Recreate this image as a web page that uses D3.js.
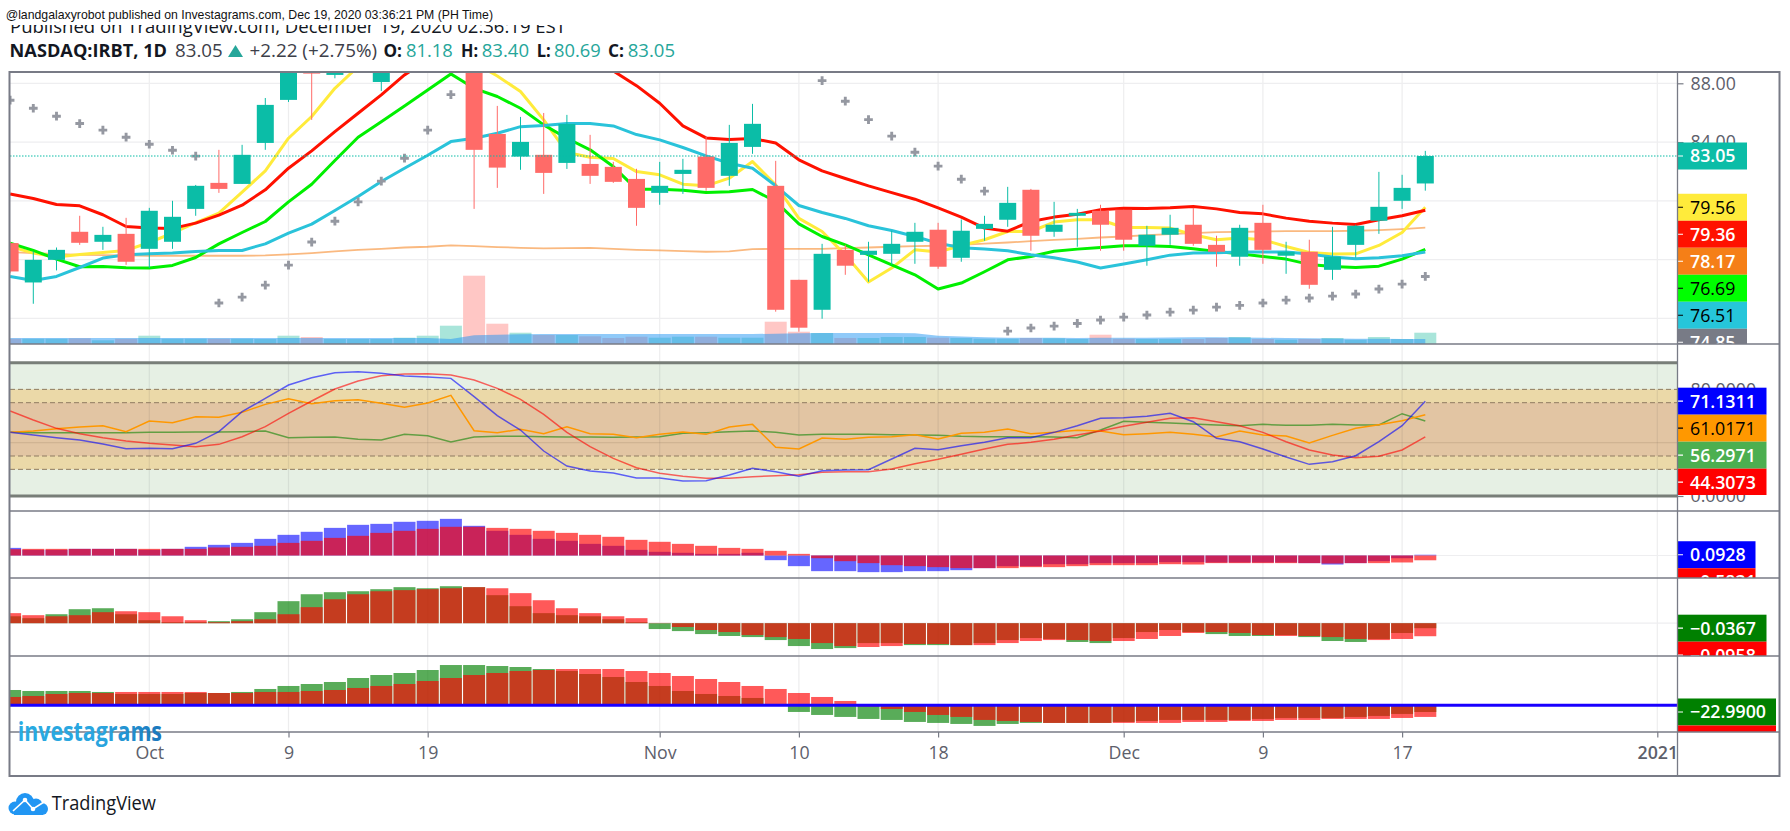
<!DOCTYPE html>
<html>
<head>
<meta charset="utf-8">
<title>NASDAQ:IRBT, 1D</title>
<script src="https://cdn.jsdelivr.net/npm/d3@7"></script>
<style>
html,body{margin:0;padding:0;background:#fff;overflow:hidden}
svg{display:block}
text{font-family:"Open Sans","Noto Sans",sans-serif}
</style>
</head>
<body>
<svg id="chart" width="1790" height="831"></svg>
<script>
// Daily bars, session index 0 = 23 Sep 2020, index 61 = 18 Dec 2020
const opens = [77.12,74.44,75.98,77.89,77.21,77.75,76.73,77.21,79.45,81.22,
  81.15,83.94,86.87,91.00,88.57,90.00,88.09,91.00,92.50,94.00,
  93.00,84.55,83.01,83.13,82.58,82.51,82.31,81.49,80.54,81.83,
  83.01,81.70,83.67,81.02,74.62,72.58,76.66,76.32,76.39,77.21,
  78.03,76.12,78.09,78.71,80.75,77.89,78.98,79.32,79.39,76.94,
  77.69,78.37,77.00,76.19,78.50,76.26,76.53,75.30,77.00,78.64,
  80.00,81.18];
const highs = [77.23,76.55,76.82,78.98,78.23,78.84,79.52,80.00,81.08,83.47,
  83.81,87.00,90.40,91.60,91.00,92.00,92.00,93.00,94.50,96.00,
  94.00,86.46,85.71,85.98,85.85,84.49,82.65,82.18,82.65,82.86,
  84.37,85.17,86.60,82.72,74.62,77.07,77.00,77.21,77.96,78.50,
  78.50,78.73,78.98,80.95,80.81,79.93,79.45,79.73,79.39,78.30,
  79.05,79.52,77.62,78.37,79.73,77.21,77.35,78.23,78.37,81.97,
  81.77,83.40];
const lows = [75.10,72.99,75.26,77.00,76.66,75.64,75.42,76.73,78.98,80.54,
  81.15,83.47,86.73,85.51,88.34,89.20,87.48,89.50,91.50,93.00,
  79.45,80.88,82.11,80.47,82.17,81.15,81.22,78.30,79.73,80.47,
  80.68,81.02,83.20,72.45,71.09,71.97,74.96,74.49,75.64,75.71,
  75.37,75.85,77.28,78.23,76.60,77.55,76.87,76.60,76.60,75.58,
  77.00,76.94,75.51,75.58,75.71,75.03,74.01,74.62,76.12,77.75,
  79.45,80.69];
const closes = [75.19,75.98,76.66,77.14,77.68,75.85,79.32,78.91,81.02,80.81,
  83.13,86.53,90.00,88.66,90.40,91.50,91.20,92.50,94.00,95.00,
  83.47,82.26,84.01,81.90,85.23,81.70,81.29,79.52,81.02,82.11,
  80.88,83.94,85.24,72.58,71.36,76.39,75.58,76.60,77.07,77.89,
  75.51,77.96,78.43,79.86,77.62,78.37,79.18,78.37,77.35,77.69,
  78.16,77.07,76.53,78.16,76.66,76.53,74.28,76.19,78.30,79.59,
  80.88,83.05];

// Moving averages
const yellowMA = [76.89,76.44,76.17,76.35,76.48,76.62,77.16,77.80,78.52,79.16,
  80.59,82.04,84.26,85.74,87.66,89.14,90.00,90.40,90.60,90.10,
  89.40,88.50,87.44,85.51,83.29,82.97,82.88,81.99,81.77,81.13,
  81.02,81.54,82.67,81.09,78.80,77.91,76.32,74.47,75.42,76.66,
  76.51,76.96,77.35,77.91,77.91,78.55,78.71,78.71,78.18,78.18,
  78.14,77.69,77.35,77.46,77.35,76.89,76.48,76.37,76.39,76.96,
  77.84,79.56];
const redMA = [80.47,80.16,79.75,79.66,79.05,78.25,78.14,78.12,78.48,79.02,
  79.70,80.75,82.22,83.40,84.71,85.96,87.21,88.57,89.59,90.04,
  90.27,90.27,90.04,89.70,89.36,89.14,88.84,87.84,86.64,85.10,
  84.28,84.17,84.24,83.94,82.79,82.04,81.52,81.02,80.56,80.11,
  79.52,78.89,78.14,77.93,78.59,78.89,79.09,79.39,79.50,79.48,
  79.52,79.61,79.45,79.20,79.11,78.82,78.61,78.48,78.39,78.71,
  78.98,79.36];
const orangeMA = [76.51,76.44,76.39,76.32,76.30,76.28,76.26,76.26,76.26,76.26,
  76.26,76.28,76.35,76.44,76.55,76.66,76.73,76.82,76.87,76.96,
  76.91,76.85,76.80,76.76,76.78,76.80,76.73,76.66,76.62,76.57,
  76.53,76.55,76.71,76.73,76.73,76.73,76.78,76.82,76.87,76.91,
  76.94,77.00,77.09,77.16,77.25,77.34,77.41,77.50,77.57,77.66,
  77.73,77.80,77.87,77.89,77.91,77.93,77.93,77.93,77.96,78.00,
  78.07,78.17];
const greenMA = [77.12,76.62,76.03,75.51,75.53,75.44,75.42,75.60,76.14,77.07,
  77.84,78.59,79.93,81.13,82.74,84.33,85.39,86.46,87.55,88.64,
  87.66,87.10,86.30,85.17,84.26,83.47,82.33,80.79,80.79,80.72,
  80.56,80.61,80.77,79.95,78.43,77.57,77.00,76.32,75.64,74.96,
  73.99,74.40,75.17,75.98,76.21,76.57,76.71,76.82,76.94,76.94,
  76.89,76.73,76.55,76.39,76.21,76.03,75.67,75.53,75.46,75.55,
  76.03,76.69];
const cyanMA = [74.85,74.58,74.85,75.46,76.10,76.32,76.39,76.44,76.55,76.62,
  76.62,77.07,77.80,78.41,79.34,80.29,81.31,82.22,83.10,84.03,
  84.26,84.60,85.05,85.12,85.26,85.26,85.10,84.51,84.15,83.63,
  83.06,82.56,82.22,81.02,79.68,79.20,78.80,78.30,77.98,77.57,
  77.12,76.80,76.71,76.60,76.32,76.12,75.83,75.42,75.69,75.98,
  76.30,76.44,76.46,76.51,76.51,76.51,76.37,76.17,76.05,76.12,
  76.26,76.51];

// Parabolic stop markers; null where the stop lies above the visible range
const stops = [86.85,86.30,85.76,85.26,84.81,84.33,83.85,83.44,83.04,73.04,
  73.44,74.26,75.62,77.19,78.61,79.93,81.34,82.90,84.81,87.23,
  null,null,null,null,null,null,null,null,null,null,
  null,null,null,null,null,88.18,86.78,85.53,84.40,83.31,
  82.36,81.47,80.66,71.13,71.34,71.47,71.65,71.88,72.08,72.22,
  72.42,72.56,72.76,72.88,73.04,73.24,73.38,73.51,73.65,73.99,
  74.33,74.85];

// Share volume in millions and its moving average
const volume = [.53,.53,.53,.57,.37,.53,.83,.53,.53,.53,
  .53,.50,.83,.70,.50,.50,.50,.63,.83,1.83,
  6.83,2.03,1.13,.90,.90,.77,.60,.73,.63,.73,
  .73,.63,.63,2.23,1.23,1.10,.60,.60,.70,.70,
  .63,.60,.53,.53,.60,.57,.50,.93,.53,.50,
  .50,.50,.60,.70,.50,.43,.50,.60,.43,.70,
  .50,1.13];
const volumeMA = [.60,.60,.60,.60,.60,.60,.60,.60,.60,.60,
  .60,.60,.60,.60,.60,.60,.60,.60,.60,.50,
  .87,.93,.97,1.0,1.0,1.0,1.0,1.0,1.0,1.0,
  1.0,1.0,1.0,1.03,1.07,1.1,1.1,1.1,1.1,1.07,
  .83,.75,.68,.63,.62,.62,.60,.62,.62,.62,
  .65,.67,.67,.65,.62,.60,.57,.55,.53,.52,
  .50,.50];

// Oscillator pane
const oscBlue = [47.75,45.75,43.75,42.0,39.0,35.5,35.75,35.5,39.5,48.25,
  63.25,73.25,83.25,88.75,92.5,93.25,92.0,90.0,89.25,88.25,
  74.5,60.25,49.5,33.75,22.5,18.75,17.25,13.5,13.5,11.25,
  11.5,15.75,20.75,18.25,14.75,19.0,19.5,19.75,27.75,35.75,
  34.75,37.75,40.25,43.75,43.75,47.75,52.75,58.25,58.75,59.75,
  62.0,55.75,43.25,40.75,35.25,29.25,23.75,25.75,30.25,40.75,
  52.75,71.13];
const oscRed = [63.75,57.0,50.75,46.75,43.75,41.25,39.5,38.25,37.0,38.75,
  44.5,52.0,62.0,71.25,80.25,86.25,90.25,91.5,91.75,90.75,
  87.0,80.75,72.5,61.25,47.75,37.0,28.25,21.25,17.0,14.75,
  13.25,13.25,14.5,15.25,16.0,17.75,18.25,18.25,20.25,24.25,
  27.5,31.25,35.25,38.75,40.25,42.5,45.75,48.75,52.25,55.25,
  58.25,58.75,55.75,52.75,47.75,40.75,34.5,30.75,28.75,29.75,
  34.5,44.31];
const oscOrange = [47.75,48.75,50.5,51.75,52.75,48.25,56.25,55.0,59.5,59.0,
  62.75,68.75,73.0,69.25,71.5,72.25,69.5,66.5,69.75,75.5,
  49.0,47.5,50.0,46.75,52.0,46.75,46.25,43.75,46.25,48.0,
  46.25,51.75,53.75,36.5,35.25,43.5,42.5,44.0,44.5,46.0,
  42.75,47.0,47.75,50.25,46.75,47.75,49.25,48.75,46.0,46.75,
  47.75,46.25,44.25,48.75,45.75,45.0,39.75,45.5,50.75,53.5,
  56.5,61.02];
const oscGreen = [47.75,47.5,47.5,47.5,47.5,47.5,47.75,47.75,48.0,48.0,
  48.25,48.75,43.75,44.0,44.25,42.5,42.0,46.25,45.25,40.5,
  44.25,44.75,44.75,44.5,44.25,44.25,44.0,44.25,44.5,47.0,
  47.5,48.25,48.75,47.75,45.75,46.25,46.25,46.25,46.0,45.75,
  45.5,44.75,44.5,44.5,44.5,44.25,43.75,49.5,56.0,55.25,
  54.75,54.0,53.25,52.75,53.75,53.0,53.0,53.75,53.25,53.25,
  61.75,56.30];

// Histogram panes, two overlaid series each
const histABlue = [.93,.69,.69,.81,.81,.81,.69,.81,1.06,1.30,
  1.54,2.03,2.52,2.89,3.37,3.74,3.86,4.11,4.23,4.47,
  3.62,3.01,2.52,2.03,1.79,1.42,1.18,.69,.45,.33,
  .20,.20,.33,-.57,-1.30,-1.91,-1.91,-2.03,-2.03,-1.91,
  -1.91,-1.79,-1.54,-1.30,-1.30,-1.06,-1.06,-.93,-.93,-.93,
  -.81,-.81,-.85,-.85,-.85,-.85,-.93,-1.10,-.93,-.69,
  -.33,.0928];
const histARed = [.77,.81,.81,.81,.81,.81,.81,.81,.81,.98,
  1.06,1.18,1.54,1.79,2.15,2.40,2.76,3.01,3.25,3.50,
  3.50,3.37,3.25,3.01,2.76,2.52,2.28,1.91,1.67,1.42,
  1.18,.93,.81,.57,.20,-.33,-.69,-.93,-1.18,-1.30,
  -1.42,-1.54,-1.54,-1.54,-1.42,-1.42,-1.30,-1.18,-1.18,-1.18,
  -1.06,-1.10,-.93,-.93,-.93,-.93,-.93,-.98,-.93,-.93,
  -.85,-.5831];
const histBGreen = [.051,.037,.066,.103,.110,.066,.022,.007,.007,.015,
  .029,.081,.162,.213,.228,.235,.250,.265,.257,.272,
  .265,.206,.125,.074,.059,.051,.029,.007,-.043,-.058,
  -.080,-.094,-.102,-.124,-.168,-.190,-.183,-.146,-.146,-.161,
  -.161,-.161,-.146,-.124,-.109,-.116,-.138,-.146,-.109,-.065,
  -.050,-.065,-.080,-.094,-.094,-.087,-.102,-.131,-.138,-.116,
  -.072,-.0367];
const histBRed = [.074,.059,.051,.059,.081,.088,.081,.051,.022,.007,
  .015,.029,.066,.118,.176,.213,.235,.243,.250,.257,
  .265,.257,.221,.169,.110,.074,.051,.037,.002,-.028,
  -.050,-.065,-.087,-.102,-.116,-.146,-.168,-.175,-.168,-.153,
  -.153,-.161,-.161,-.146,-.131,-.124,-.124,-.131,-.131,-.116,
  -.094,-.072,-.065,-.072,-.087,-.094,-.094,-.102,-.116,-.124,
  -.116,-.0958];
const histCGreen = [52.6,49.2,49.2,49.2,45.8,38.9,38.9,38.9,42.3,42.3,
  45.8,56.1,66.4,73.2,80.1,93.8,104.1,111.0,121.3,138.4,
  138.4,135.0,131.6,124.7,117.8,107.5,97.2,80.1,66.4,49.2,
  38.9,32.0,25.2,2.3,-22.9,-33.2,-40.0,-46.9,-50.3,-57.2,
  -60.6,-64.1,-70.9,-64.1,-60.6,-60.6,-60.6,-60.6,-57.2,-53.8,
  -50.3,-50.3,-50.3,-50.3,-46.9,-43.5,-43.5,-43.5,-40.0,-36.6,
  -29.7,-22.99];
const histCRed = [28.6,32.0,38.9,42.3,42.3,45.8,45.8,45.8,45.8,42.3,
  42.3,45.8,45.8,49.2,52.6,59.5,66.4,73.2,83.5,93.8,
  104.1,111.0,117.8,121.3,124.7,124.7,124.7,117.8,111.0,100.7,
  90.4,80.1,66.4,56.1,42.3,28.6,14.9,-4.6,-12.6,-22.9,
  -33.2,-40.0,-50.3,-53.8,-57.2,-60.6,-60.6,-60.6,-60.6,-60.6,
  -60.6,-57.2,-57.2,-53.8,-53.8,-50.3,-50.3,-46.9,-46.9,-46.9,
  -43.5,-40.0];

// Date axis
const dateTickIndex = [6,12,18,28,34,40,48,54,60,71];
const dateTickLabels = ["Oct","9","19","Nov","10","18","Dec","9","17","2021"];
const priceTicks = [88,84,80,76,72];
const oscTicks = [80,0];
const oscLevels = [80,70,30,20];

const W = 1790, H = 831;
const frame = {l:10, r:1779.5, t:72, b:776, axis:1677.5};
const panes = {
  main:{t:72,b:344}, osc:{t:344,b:511}, a:{t:511,b:578}, b:{t:578,b:656}, c:{t:656,b:732}
};
const C = {
  up:"#0bbda7", down:"#ff6b68", frame:"#787b86", grid:"#eeeef0", axisText:"#5d606b",
  ink:"#131722", teal:"#26a69a"
};

const svg = d3.select("#chart");
const defs = svg.append("defs");

const x = d3.scaleLinear().domain([0,71]).range([10.1,1657.3]);
const yPrice = d3.scaleLinear().domain([88,72]).range([83.3,318.3]);
const yVol = d3.scaleLinear().domain([0,27.2]).range([344,72]);
const yOsc = d3.scaleLinear().domain([0,100]).range([496,362.7]);
const yA = d3.scaleLinear().domain([0,1]).range([555.5,547.3]);
const yB = d3.scaleLinear().domain([0,.1]).range([623.2,609.6]);
const yC = d3.scaleLinear().domain([0,100]).range([705.3,676.2]);
const idx = d3.range(closes.length);

function paneClip(id,t,b,right){
  defs.append("clipPath").attr("id",id).append("rect")
    .attr("x",frame.l).attr("y",t).attr("width",(right||frame.axis)-frame.l).attr("height",b-t);
}
paneClip("clipMain",panes.main.t+1,panes.main.b);
paneClip("clipOsc",panes.osc.t,panes.osc.b);
paneClip("clipA",panes.a.t,panes.a.b);
paneClip("clipB",panes.b.t,panes.b.b);
paneClip("clipC",panes.c.t,panes.c.b);
defs.append("clipPath").attr("id","clipHeader").append("rect").attr("x",0).attr("y",25).attr("width",W).attr("height",20);

// Text pinned between two x positions so its width stays exact
function fitText(parent,str,x1,x2,base,size,fill,weight,family){
  const t = parent.append("text").text(str).attr("x",x1).attr("y",base)
    .attr("textLength",x2-x1).attr("lengthAdjust","spacingAndGlyphs")
    .attr("font-size",size).attr("fill",fill).attr("font-weight",weight||400);
  if(family) t.style("font-family",family);
  return t;
}

/* ---------- oscillator background ---------- */
const gBack = svg.append("g");
gBack.append("rect").attr("x",frame.l).attr("width",frame.axis-frame.l)
  .attr("y",yOsc(100)).attr("height",yOsc(0)-yOsc(100)).attr("fill","#e6f0e4");
gBack.append("rect").attr("x",frame.l).attr("width",frame.axis-frame.l)
  .attr("y",yOsc(80)).attr("height",yOsc(20)-yOsc(80)).attr("fill","#ebd9a8");
gBack.append("rect").attr("x",frame.l).attr("width",frame.axis-frame.l)
  .attr("y",yOsc(70)).attr("height",yOsc(30)-yOsc(70)).attr("fill","#e2c5a3");

/* ---------- grid ---------- */
const gGrid = svg.append("g");
gGrid.selectAll("line.v").data(dateTickIndex).join("line").attr("class","v")
  .attr("x1",d=>x(d)).attr("x2",d=>x(d)).attr("y1",panes.main.t).attr("y2",panes.c.b)
  .attr("stroke","rgba(42,46,57,.085)").attr("stroke-width",1.2);
gGrid.selectAll("line.h").data(priceTicks).join("line").attr("class","h")
  .attr("x1",frame.l).attr("x2",frame.axis).attr("y1",d=>yPrice(d)).attr("y2",d=>yPrice(d))
  .attr("stroke",C.grid).attr("stroke-width",1.2);
gGrid.append("line").attr("x1",frame.l).attr("x2",frame.axis).attr("y1",yOsc(40)).attr("y2",yOsc(40))
  .attr("stroke","rgba(90,70,50,.13)").attr("stroke-width",1.2);
gGrid.append("line").attr("x1",frame.l).attr("x2",frame.axis).attr("y1",yA(0)).attr("y2",yA(0))
  .attr("stroke",C.grid).attr("stroke-width",1.2);
gGrid.append("line").attr("x1",frame.l).attr("x2",frame.axis).attr("y1",yB(0)).attr("y2",yB(0))
  .attr("stroke",C.grid).attr("stroke-width",1.2);

/* ---------- main pane ---------- */
const gMain = svg.append("g").attr("clip-path","url(#clipMain)");

gMain.selectAll("rect.vol").data(idx).join("rect").attr("class","vol")
  .attr("x",i=>x(i)-11).attr("width",22)
  .attr("y",i=>yVol(volume[i])).attr("height",i=>yVol(0)-yVol(volume[i]))
  .attr("fill",i=>closes[i]>=opens[i]?"#a9e5da":"#ffc7c5");

gMain.append("path").datum(idx)
  .attr("d",d3.area().x(i=>x(i)).y0(yVol(0)).y1(i=>yVol(volumeMA[i])))
  .attr("fill","rgba(33,150,243,.5)");

const priceLine = s => d3.line().x(i=>x(i)).y(i=>yPrice(s[i]));
[[orangeMA,"rgba(245,127,23,.55)",1.8],[yellowMA,"#ffeb3b",3],[redMA,"#ff1100",3],
 [greenMA,"#00f000",3],[cyanMA,"#2ac3da",3]].forEach(([s,col,w])=>{
  gMain.append("path").datum(idx).attr("d",priceLine(s))
    .attr("fill","none").attr("stroke",col).attr("stroke-width",w).attr("stroke-linejoin","round");
});

gMain.selectAll("path.stop").data(idx.filter(i=>stops[i]!==null)).join("path").attr("class","stop")
  .attr("d",d3.symbol(d3.symbolCross,42))
  .attr("transform",i=>`translate(${x(i)},${yPrice(stops[i])})`)
  .attr("fill","#9598a1");

gMain.selectAll("line.wick").data(idx).join("line").attr("class","wick")
  .attr("x1",i=>x(i)).attr("x2",i=>x(i))
  .attr("y1",i=>yPrice(highs[i])).attr("y2",i=>yPrice(lows[i]))
  .attr("stroke",i=>closes[i]>=opens[i]?C.up:C.down).attr("stroke-width",1);
gMain.selectAll("rect.body").data(idx).join("rect").attr("class","body")
  .attr("x",i=>x(i)-8.5).attr("width",17)
  .attr("y",i=>yPrice(Math.max(opens[i],closes[i])))
  .attr("height",i=>Math.max(1,Math.abs(yPrice(opens[i])-yPrice(closes[i]))))
  .attr("fill",i=>closes[i]>=opens[i]?C.up:C.down);

gMain.append("line").attr("x1",frame.l).attr("x2",frame.axis)
  .attr("y1",yPrice(closes[61])).attr("y2",yPrice(closes[61]))
  .attr("stroke","#0bbda7").attr("stroke-width",1).attr("stroke-dasharray","1.5 1.5");

/* ---------- oscillator pane ---------- */
const gOsc = svg.append("g").attr("clip-path","url(#clipOsc)");
gOsc.selectAll("line.level").data(oscLevels).join("line").attr("class","level")
  .attr("x1",frame.l).attr("x2",frame.axis).attr("y1",d=>yOsc(d)).attr("y2",d=>yOsc(d))
  .attr("stroke","#8f7b60").attr("stroke-width",1).attr("stroke-dasharray","5 3");
[[oscGreen,"rgba(76,150,50,.85)"],[oscOrange,"#ff9800"],[oscRed,"rgba(255,0,0,.6)"],[oscBlue,"rgba(0,0,255,.6)"]]
 .forEach(([s,col])=>{
  gOsc.append("path").datum(idx)
    .attr("d",d3.line().x(i=>x(i)).y(i=>yOsc(s[i])))
    .attr("fill","none").attr("stroke",col).attr("stroke-width",1.5);
 });
[yOsc(100),yOsc(0)].forEach(y=>{
  svg.append("line").attr("x1",frame.l).attr("x2",frame.axis).attr("y1",y).attr("y2",y)
    .attr("stroke","#787e78").attr("stroke-width",3);
});

/* ---------- histogram panes ---------- */
function histogram(clip,y,first,firstCol,second,secondCol){
  const g = svg.append("g").attr("clip-path",`url(#${clip})`);
  [[first,firstCol],[second,secondCol]].forEach(([s,col])=>{
    g.append("g").selectAll("rect").data(idx).join("rect")
      .attr("x",i=>x(i)-11).attr("width",22)
      .attr("y",i=>Math.min(y(0),y(s[i])))
      .attr("height",i=>Math.abs(y(s[i])-y(0)))
      .attr("fill",col);
  });
  return g;
}
histogram("clipA",yA,histABlue,"rgba(0,0,255,.6)",histARed,"rgba(255,0,0,.65)");
histogram("clipB",yB,histBGreen,"rgba(0,128,0,.65)",histBRed,"rgba(255,0,0,.65)");
const gC = histogram("clipC",yC,histCGreen,"rgba(0,128,0,.65)",histCRed,"rgba(255,0,0,.65)");
gC.append("line").attr("x1",frame.l).attr("x2",frame.axis).attr("y1",yC(0)).attr("y2",yC(0))
  .attr("stroke","#1a00ff").attr("stroke-width",3);

/* ---------- axes ---------- */
const axisFont = 17.8;
function styleAxis(g){
  g.select(".domain").remove();
  g.selectAll("line").attr("stroke",C.frame).attr("stroke-width",1.2);
  g.selectAll("text").attr("fill",C.axisText).attr("font-size",axisFont)
    .attr("font-family",'"Open Sans",sans-serif');
}
const axisPrice = svg.append("g").attr("transform",`translate(${frame.axis},0)`)
  .call(d3.axisRight(yPrice).tickValues(priceTicks).tickSize(6).tickPadding(7).tickFormat(d3.format(".2f")))
  .call(styleAxis);
const axisOsc = svg.append("g").attr("transform",`translate(${frame.axis},0)`)
  .call(d3.axisRight(yOsc).tickValues(oscTicks).tickSize(6).tickPadding(7).tickFormat(d3.format(".4f")))
  .call(styleAxis);
const axisTime = svg.append("g").attr("transform",`translate(0,${panes.c.b})`)
  .call(d3.axisBottom(x).tickValues(dateTickIndex).tickSize(5.5).tickPadding(9)
    .tickFormat((d,i)=>dateTickLabels[i]))
  .call(styleAxis);
axisTime.selectAll("text").filter(d=>d===71).attr("font-weight",600);

/* ---------- last-value labels ---------- */
function valueLabels(items,scale,width,startY,clipBottom){
  const clipId = "lab"+Math.round(startY);
  defs.append("clipPath").attr("id",clipId).append("rect")
    .attr("x",frame.axis).attr("y",0).attr("width",120).attr("height",clipBottom);
  const g = svg.append("g").attr("clip-path",`url(#${clipId})`);
  let prev = -Infinity;
  items.forEach(it=>{
    const cy = Math.max(scale(it.v), prev+27);
    prev = cy;
    g.append("rect").attr("x",frame.axis).attr("y",cy-13.5).attr("width",width).attr("height",27).attr("fill",it.bg);
    g.append("line").attr("x1",frame.axis).attr("x2",frame.axis+5.5).attr("y1",cy).attr("y2",cy)
      .attr("stroke",it.fg).attr("stroke-width",1.2);
    g.append("text").text(it.s).attr("x",frame.axis+12.5).attr("y",cy+6.4)
      .attr("font-size",axisFont).attr("font-weight",it.fg==="#fff"?600:400).attr("fill",it.fg);
  });
}
valueLabels([{v:closes[61],s:"83.05",bg:"#0bbda7",fg:"#fff"}],yPrice,69.5,1,344);
valueLabels([
  {v:yellowMA[61],s:"79.56",bg:"#ffeb3b",fg:"#000"},
  {v:redMA[61],s:"79.36",bg:"#ff1100",fg:"#fff"},
  {v:orangeMA[61],s:"78.17",bg:"#f57f17",fg:"#fff"},
  {v:greenMA[61],s:"76.69",bg:"#00ff00",fg:"#000"},
  {v:cyanMA[61],s:"76.51",bg:"#26c6da",fg:"#000"},
  {v:stops[61],s:"74.85",bg:"#787b86",fg:"#fff"}
],yPrice,69.5,2,344);
valueLabels([
  {v:oscBlue[61],s:"71.1311",bg:"#0000ff",fg:"#fff"},
  {v:oscOrange[61],s:"61.0171",bg:"#ff9800",fg:"#000"},
  {v:oscGreen[61],s:"56.2971",bg:"#4caf50",fg:"#fff"},
  {v:oscRed[61],s:"44.3073",bg:"#ff0000",fg:"#fff"}
],yOsc,89,3,495);
valueLabels([
  {v:histABlue[61],s:"0.0928",bg:"#0000ff",fg:"#fff"},
  {v:histARed[61],s:"\u22120.5831",bg:"#ff0000",fg:"#fff"}
],yA,78,4,578);
valueLabels([
  {v:histBGreen[61],s:"\u22120.0367",bg:"#008000",fg:"#fff"},
  {v:histBRed[61],s:"\u22120.0958",bg:"#ff0000",fg:"#fff"}
],yB,89,5,656);
valueLabels([
  {v:histCGreen[61],s:"\u221222.9900",bg:"#008000",fg:"#fff"},
  {v:histCRed[61],s:"\u221240.0000",bg:"#ff0000",fg:"#fff"}
],yC,98.5,6,732);

/* ---------- frame and separators ---------- */
const gFrame = svg.append("g").attr("fill","none").attr("stroke",C.frame);
[panes.main.b,panes.osc.b,panes.a.b,panes.b.b,panes.c.b].forEach(y=>{
  gFrame.append("line").attr("x1",frame.l).attr("x2",frame.r).attr("y1",y).attr("y2",y).attr("stroke-width",1.3);
});
gFrame.append("line").attr("x1",frame.axis).attr("x2",frame.axis).attr("y1",frame.t).attr("y2",frame.b).attr("stroke-width",1.3);
gFrame.append("rect").attr("x",frame.l-.5).attr("y",frame.t).attr("width",frame.r-frame.l+.5).attr("height",frame.b-frame.t).attr("stroke-width",2);

/* ---------- header ---------- */
const gHead = svg.append("g");
fitText(gHead.append("g").attr("clip-path","url(#clipHeader)"),
  "Published on TradingView.com, December 19, 2020 02:36:19 EST",10,566,32.5,18,C.ink);
gHead.append("rect").attr("x",0).attr("y",0).attr("width",520).attr("height",25).attr("fill","#fff");
fitText(gHead,"@landgalaxyrobot published on Investagrams.com, Dec 19, 2020 03:36:21 PM (PH Time)",5.7,493,19,13.5,"#111",400,'"Liberation Sans",Arial,sans-serif');
fitText(gHead,"NASDAQ:IRBT, 1D",9.6,167,57,18.5,C.ink,700);
fitText(gHead,"83.05",175,222.7,57,18.5,"#3d4049");
gHead.append("path").attr("d","M228,57 L235.5,45 L243,57 Z").attr("fill",C.teal);
fitText(gHead,"+2.22 (+2.75%)",249.5,377,57,18.5,"#3d4049");
[["O:",383.5,402,"81.18",406,452.7],["H:",461,478,"83.40",481.7,529],
 ["L:",536.7,550.7,"80.69",554,600.7],["C:",608,624,"83.05",627.7,675]].forEach(r=>{
  fitText(gHead,r[0],r[1],r[2],57,18.5,C.ink,700);
  fitText(gHead,r[3],r[4],r[5],57,18.5,C.teal);
});

/* ---------- brand marks ---------- */
const grad = defs.append("linearGradient").attr("id","brandInk").attr("x1","0").attr("x2","1");
grad.append("stop").attr("offset","0").attr("stop-color","#29abe2");
grad.append("stop").attr("offset",".6").attr("stop-color","#2aa4de");
grad.append("stop").attr("offset","1").attr("stop-color","#1b75bb");
fitText(svg,"investagrams",17.7,162,741,27,"url(#brandInk)",700);

const gCloud = svg.append("g").attr("fill","#2196f3");
[[15,808,6.5],[25,802,9],[36,805,6.5],[42,809,6]].forEach(c=>{
  gCloud.append("circle").attr("cx",c[0]).attr("cy",c[1]).attr("r",c[2]);
});
gCloud.append("rect").attr("x",14).attr("y",806).attr("width",29).attr("height",9);
gCloud.append("path").attr("d","M13,811 L25,800 L33,809 L44,802").attr("fill","none")
  .attr("stroke","#fff").attr("stroke-width",1.6);
[[25,800],[33,809]].forEach(c=>{
  gCloud.append("circle").attr("cx",c[0]).attr("cy",c[1]).attr("r",2.3).attr("fill","#fff");
});
fitText(svg,"TradingView",51.7,156,810,19.5,C.ink);
</script>
</body>
</html>
